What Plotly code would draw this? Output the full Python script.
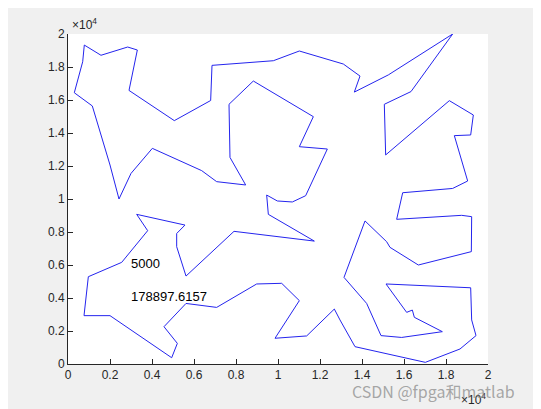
import plotly.graph_objects as go

# TSP tour, city coordinates (closed loop)
tour_x = [776, 1571, 2841, 3302, 2905, 5063, 6794, 6857, 9778, 11016, 13111, 13905,
          13635, 15254, 18317, 16333, 15063, 15127, 18159, 19302, 19175, 18397, 19032,
          18317, 15937, 15651, 18746, 19222, 19206, 16683, 15333, 15175, 14143, 13143,
          14222, 14905, 15889, 17825, 16492, 16397, 16127, 15143, 19175, 19222, 19429,
          18667, 17016, 13667, 12952, 12683, 11365, 9857, 11016, 10175, 8984, 7079,
          5619, 4571, 5206, 4937, 2000, 762, 968, 2556, 3794, 3270, 5571, 5175, 5175,
          5619, 7905, 11730, 9540, 9460, 9968, 10683, 11317, 12349, 11016, 11683, 8825,
          7667, 7714, 8460, 7079, 6365, 4016, 3000, 2428, 2000, 1157, 300, 700]
tour_y = [19330, 18710, 19210, 19030, 16580, 14750, 15970, 18100, 18380, 18970, 18180, 17450,
          16480, 17520, 20000, 16510, 15740, 12670, 15960, 15090, 13880, 13840, 11090,
          10640, 10380, 8770, 9010, 8930, 6810, 6000, 7070, 7410, 8670, 5250,
          3670, 1720, 1610, 1960, 2830, 3270, 3130, 4850, 4620, 2670, 1720,
          910, 100, 1050, 2670, 3330, 1700, 1560, 3840, 4890, 4850, 3430,
          3670, 2260, 1250, 380, 2930, 2930, 5290, 6160, 8080, 9070, 8420, 7910, 7110,
          5330, 8040, 7450, 9070, 10240, 9880, 9820, 10200, 13030, 13170, 14990, 17150,
          15740, 12520, 10850, 11050, 11720, 13070, 11550, 10000, 12060, 15640, 16440, 18320]

labels = ["5000", "178897.6157"]
label_x = [3000, 3000]
label_y = [6000, 4000]

tick_vals = [0, 2000, 4000, 6000, 8000, 10000, 12000, 14000, 16000, 18000, 20000]
tick_text = ["0", "0.2", "0.4", "0.6", "0.8", "1", "1.2", "1.4", "1.6", "1.8", "2"]

font = "Liberation Sans, Arial, sans-serif"
axis_col = "#262626"

fig = go.Figure()
fig.add_trace(
    go.Scatter(
        x=tour_x + tour_x[:1],
        y=tour_y + tour_y[:1],
        mode="lines",
        line=dict(color="#2424ee", width=1),
        showlegend=False,
    )
)
fig.add_trace(
    go.Scatter(
        x=label_x,
        y=label_y,
        text=labels,
        mode="text",
        textposition="middle right",
        textfont=dict(family=font, size=13, color="#000000"),
        showlegend=False,
    )
)

axis_style = dict(
    range=[0, 20000],
    tickvals=tick_vals,
    ticktext=tick_text,
    ticks="inside",
    ticklen=5,
    tickcolor=axis_col,
    showline=True,
    linecolor=axis_col,
    linewidth=1,
    showgrid=False,
    zeroline=False,
    tickfont=dict(family=font, size=12, color=axis_col),
    fixedrange=True,
)
fig.update_xaxes(**axis_style)
fig.update_yaxes(**axis_style)

# page body adds an 8px offset, so margins are shifted to land the axes where the original has them
fig.update_layout(
    width=541,
    height=409,
    margin=dict(l=60, r=61, t=26, b=53),
    paper_bgcolor="#f0f0f0",
    plot_bgcolor="#ffffff",
    font=dict(family=font),
    annotations=[
        dict(text="×10<sup>4</sup>", xref="paper", yref="paper", x=0.005, y=1.03,
             xanchor="left", yanchor="middle", showarrow=False,
             font=dict(family=font, size=12, color=axis_col)),
        dict(text="×10<sup>4</sup>", xref="paper", yref="paper", x=0.93, y=-0.105,
             xanchor="left", yanchor="middle", showarrow=False,
             font=dict(family=font, size=12, color=axis_col)),
        dict(text="CSDN @fpga和matlab", xref="paper", yref="paper", x=0.87, y=-0.082,
             xanchor="center", yanchor="middle", showarrow=False,
             font=dict(family="Noto Sans CJK SC, " + font, size=16,
                       color="rgba(140,140,140,0.75)")),
    ],
)

fig.write_html("out.html")
